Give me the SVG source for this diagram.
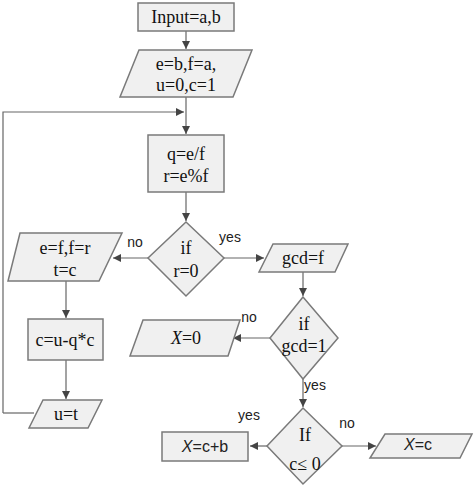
<svg xmlns="http://www.w3.org/2000/svg" width="474" height="487" viewBox="0 0 474 487">
<style>
.s{fill:#f0f0f0;stroke:#7a7a7a;stroke-width:1.5}
.t{font-family:'Liberation Serif','Times New Roman','DejaVu Serif',serif;font-size:18px;fill:#111;text-anchor:middle}
.l{font-family:'Liberation Sans',Arial,sans-serif;font-size:14px;fill:#222;text-anchor:middle}
.c{fill:none;stroke:#666;stroke-width:1.2}
</style>
<defs>
<marker id="a" viewBox="0 0 10 10" refX="10" refY="5" markerWidth="8" markerHeight="8" markerUnits="userSpaceOnUse" orient="auto">
<path d="M0,0 L10,5 L0,10 z" fill="#444"/>
</marker>
</defs>
<rect width="474" height="487" fill="#fff"/>
<g id="connectors">
<path class="c" d="M186,31 V49" marker-end="url(#a)"/>
<path class="c" d="M186,97 V134" marker-end="url(#a)"/>
<path class="c" d="M3,413 V112 H184" marker-end="url(#a)"/>
<path class="c" d="M34,413 H3"/>
<path class="c" d="M186,192 V221" marker-end="url(#a)"/>
<path class="c" d="M148,258 H113" marker-end="url(#a)"/>
<path class="c" d="M224,258 H264" marker-end="url(#a)"/>
<path class="c" d="M66,281 V318" marker-end="url(#a)"/>
<path class="c" d="M66,360 V399" marker-end="url(#a)"/>
<path class="c" d="M303,272 V296" marker-end="url(#a)"/>
<path class="c" d="M270,338 H233" marker-end="url(#a)"/>
<path class="c" d="M303,379 V407" marker-end="url(#a)"/>
<path class="c" d="M267,446 H250" marker-end="url(#a)"/>
<path class="c" d="M342,446 H376" marker-end="url(#a)"/>
<text class="l" x="135" y="247">no</text>
<text class="l" x="230" y="242">yes</text>
<text class="l" x="249" y="322">no</text>
<text class="l" x="315" y="390">yes</text>
<text class="l" x="249" y="420">yes</text>
<text class="l" x="347" y="428">no</text>
</g>
<g id="input">
<rect class="s" x="138" y="3" width="96" height="28"/>
<text class="t" x="186" y="23" font-family="Liberation Serif, serif">Input=a,b</text>
</g>
<g id="init">
<polygon class="s" points="139,50 252,50 233,97 120,97"/>
<text class="t" x="186" y="70">e=b,f=a,</text>
<text class="t" x="186" y="91">u=0,c=1</text>
</g>
<g id="divide">
<rect class="s" x="148" y="135" width="76" height="57"/>
<text class="t" x="186" y="160">q=e/f</text>
<text class="t" x="186" y="182">r=e%f</text>
</g>
<g id="if-r0">
<polygon class="s" points="186,222 224,258 186,296 148,258"/>
<text class="t" x="186" y="254">if</text>
<text class="t" x="186" y="277">r=0</text>
</g>
<g id="swap">
<polygon class="s" points="20,233 122,233 99,281 8,281"/>
<text class="t" x="65" y="254">e=f,f=r</text>
<text class="t" x="65" y="276">t=c</text>
</g>
<g id="update-c">
<rect class="s" x="28" y="319" width="75" height="41"/>
<text class="t" x="65" y="346">c=u-q*c</text>
</g>
<g id="u-t">
<polygon class="s" points="43,400 102,400 88,428 29,428"/>
<text class="t" x="66" y="420">u=t</text>
</g>
<g id="gcd">
<polygon class="s" points="273,244 348,244 335,272 259,272"/>
<text class="t" x="303" y="264">gcd=f</text>
</g>
<g id="if-gcd">
<polygon class="s" points="303,297 338,338 303,379 270,338"/>
<text class="t" x="304" y="330">if</text>
<text class="t" x="304" y="352">gcd=1</text>
</g>
<g id="x0">
<polygon class="s" points="143,320 240,320 228,356 130,356"/>
<text class="t" x="186" y="344"><tspan font-style="italic">X</tspan>=0</text>
</g>
<g id="if-c">
<polygon class="s" points="303,408 342,446 303,484 267,446"/>
<text class="t" x="305" y="441">If</text>
<text class="t" x="305" y="470">c≤ 0</text>
</g>
<g id="xcb">
<rect class="s" x="162" y="432" width="86" height="29"/>
<text class="l" x="205" y="452" style="font-size:16px"><tspan font-style="italic">X</tspan>=c+b</text>
</g>
<g id="xc">
<polygon class="s" points="385,434 472,434 460,458 370,458"/>
<text class="l" x="418" y="450" style="font-size:16px"><tspan font-style="italic">X</tspan>=c</text>
</g>
</svg>
